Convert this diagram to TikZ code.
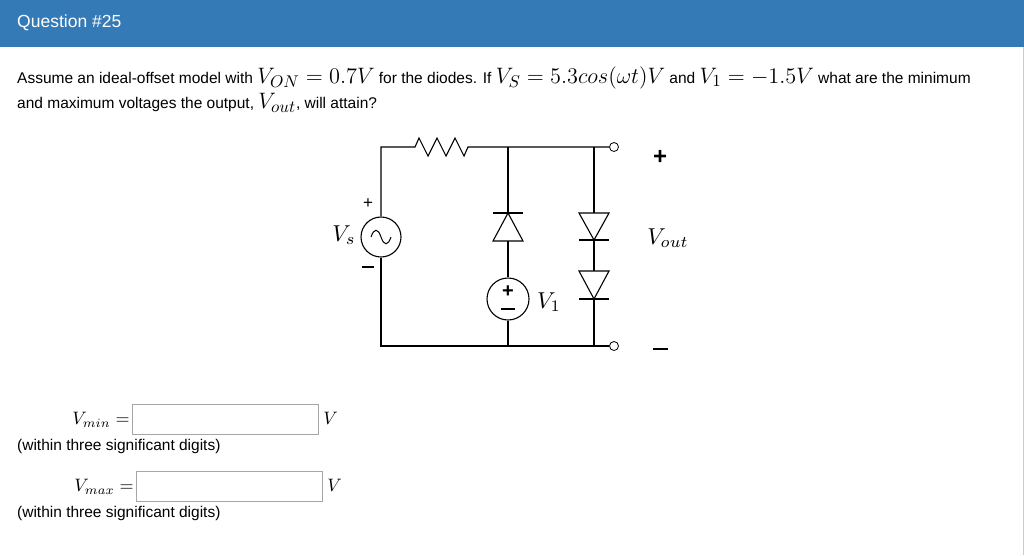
\documentclass[tikz,border=0pt]{standalone}
\usepackage{fontspec}
\setmainfont{Liberation Sans}
\newcommand{\mm}[1]{\scalebox{1.55}{$#1$}}
\begin{document}
\begin{tikzpicture}[x=1pt,y=-1pt,
  txt/.style={anchor=west,inner sep=0pt,font=\fontsize{15.5}{18}\selectfont},
  wire/.style={line width=1.1pt},
  term/.style={circle,draw,fill=white,minimum size=9pt,inner sep=0pt,line width=0.8pt},
  inbox/.style={draw=gray!70,minimum width=186pt,minimum height=30pt,inner sep=0pt,anchor=north west}]
\useasboundingbox (0,0) rectangle (1024,555);
\fill[white] (0,0) rectangle (1024,555);
\fill[fill={rgb,255:red,51;green,122;blue,183}] (0,0) rectangle (1024,47);
\draw[gray!40] (1023,47) -- (1023,555);
\node[txt,text=white,font=\fontsize{17.5}{20}\selectfont] (hd) at (17,23) {Question \#25};
\node[txt] (l1) at (17,78) {Assume an ideal-offset model with \mm{V_{ON}=0.7V} for the diodes. If \mm{V_S=5.3cos(\omega t)V} and \mm{V_1=-1.5V} what are the minimum};
\node[txt] (l2) at (17,103) {and maximum voltages the output, \mm{V_{out}}, will attain?};
% circuit
\coordinate (tl) at (381,147); \coordinate (bl) at (381,346);
\coordinate (tm) at (508,147); \coordinate (bm) at (508,346);
\coordinate (tr) at (594,147); \coordinate (br) at (594,346);
\node[term] (to) at (614,147) {};
\node[term] (bo) at (614,346) {};
\node[circle,draw,line width=1.1pt,minimum size=40pt,inner sep=0pt] (vs) at (381,237) {};
\draw[line width=1pt] (371,237) .. controls (374,228) and (378,228) .. (381,237) .. controls (384,246) and (388,246) .. (391,237);
\draw[wire] (vs.north) -- (tl) -- (415,147) -- (419,138) -- (428,156) -- (437,138) -- (446,156) -- (455,138) -- (464,156) -- (468,147) -- (tm) -- (tr) -- (to.west);
\draw[wire] (vs.south) -- (bl) -- (bm) -- (br) -- (bo.west);
% middle diode
\draw[wire] (tm) -- (508,213);
\draw[wire] (493,213) -- (523,213);
\draw[wire] (508,213) -- (493,241) -- (523,241) -- cycle;
\node[circle,draw,line width=1.1pt,minimum size=42pt,inner sep=0pt] (v1) at (508,299) {};
\draw[wire] (508,241) -- (v1.north);
\draw[wire] (v1.south) -- (bm);
\node[font=\bfseries\fontsize{20}{20}\selectfont,inner sep=0pt] (pl) at (508,292) {+};
\draw[line width=2.2pt] (501,309) -- (515,309);
% right diodes
\draw[wire] (tr) -- (594,213);
\draw[wire] (579,213) -- (609,213) -- (594,240) -- cycle;
\draw[wire] (579,240) -- (609,240);
\draw[wire] (594,240) -- (594,271);
\draw[wire] (579,271) -- (609,271) -- (594,299) -- cycle;
\draw[wire] (579,299) -- (609,299);
\draw[wire] (594,299) -- (br);
% labels
\node[scale=2.3] (vsl) at (344,235) {$V_s$};
\node[font=\fontsize{17}{17}\selectfont] (vsp) at (368,204) {+};
\draw[line width=1.2pt] (362,267) -- (374,267);
\node[scale=2.3] (v1l) at (549,302) {$V_1$};
\node[scale=2.3] (vout) at (668,238) {$V_{out}$};
\node[font=\bfseries\fontsize{24}{24}\selectfont] (op) at (660,157) {+};
\draw[line width=2.5pt] (653,349) -- (668,349);
% inputs
\node[anchor=east,scale=1.8,inner sep=0pt] (vmin) at (130,420) {$V_{min}=$};
\node[inbox] (b1) at (132,404) {};
\node[anchor=west,scale=1.8,inner sep=0pt] (u1) at (323,418) {$V$};
\node[txt] (w1) at (17,446) {(within three significant digits)};
\node[anchor=east,scale=1.8,inner sep=0pt] (vmax) at (134,487) {$V_{max}=$};
\node[inbox] (b2) at (136,471) {};
\node[anchor=west,scale=1.8,inner sep=0pt] (u2) at (327,485) {$V$};
\node[txt] (w2) at (17,513) {(within three significant digits)};
\end{tikzpicture}
\end{document}
